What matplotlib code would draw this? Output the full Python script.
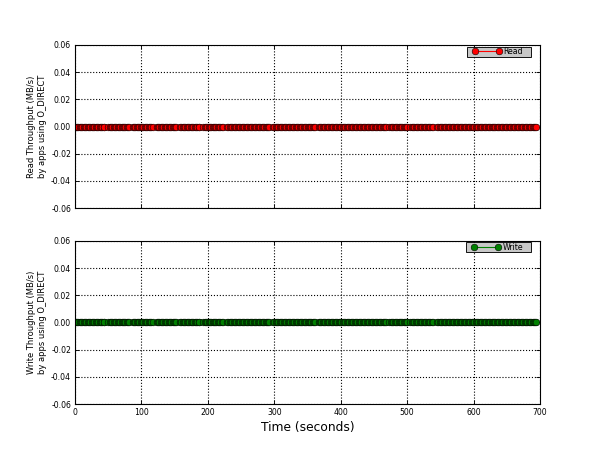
import matplotlib
matplotlib.use("Agg")
import matplotlib.pyplot as plt
from matplotlib.patches import Rectangle
from matplotlib.legend_handler import HandlerLine2D

# sampling runs (start, end) in seconds; one sample every 2 s
run_starts = [1, 50, 87, 123, 158, 193, 229, 298, 367, 473, 505, 545]
run_ends = [44, 81, 117, 152, 187, 223, 292, 361, 468, 500, 539, 694]
sample_step = 2
times = []
for s, e in zip(run_starts, run_ends):
    run = list(range(s, e, sample_step))
    if run[-1] != e:
        run.append(e)
    times.extend(run)
read_tp = [0.0] * len(times)
write_tp = [0.0] * len(times)

yticks = [-0.06, -0.04, -0.02, 0.00, 0.02, 0.04, 0.06]
xticks = [0, 100, 200, 300, 400, 500, 600, 700]

fig = plt.figure(figsize=(7.5, 5.625), dpi=80)
fig.subplots_adjust(left=0.125, right=0.9, bottom=0.1022, top=0.9, hspace=0.2)

series = [(read_tp, "red", "Read", "Read Throughput (MB/s)\nby apps using O_DIRECT"),
          (write_tp, "green", "Write", "Write Throughput (MB/s)\nby apps using O_DIRECT")]

axes = []
legends = []
for i, (vals, col, lab, ylab) in enumerate(series):
    ax = fig.add_subplot(2, 1, i + 1)
    ax.plot(times, vals, color=col, marker='o', markersize=6,
            markerfacecolor=col, markeredgecolor='black', markeredgewidth=0.5,
            linewidth=1, label=lab)
    ax.set_xlim(0, 700)
    ax.set_ylim(-0.06, 0.06)
    ax.set_xticks(xticks)
    ax.set_yticks(yticks)
    ax.set_yticklabels(["%.2f" % v for v in yticks])
    ax.grid(True, color='black', linestyle=':', linewidth=1)
    ax.tick_params(labelsize=7, direction='in', length=4, top=True, right=True)
    ax.set_ylabel(ylab, fontsize=7.5)
    for s in ax.spines.values():
        s.set_linewidth(1)
    leg = ax.legend(loc='upper right', bbox_to_anchor=(0.9634, 0.9877),
                    fontsize=7, numpoints=2, frameon=False,
                    borderpad=0.0, handlelength=3.93, handletextpad=0.14,
                    borderaxespad=0.0,
                    handler_map={ax.lines[0]: HandlerLine2D(marker_pad=0.42, numpoints=2)})
    leg.set_zorder(6)
    axes.append(ax)
    legends.append(leg)

axes[0].set_xticklabels([])
axes[1].set_xticklabels([str(v) for v in xticks])
axes[1].set_xlabel("Time (seconds)", fontsize=11)

# legend frame: grey box with uneven padding
fig.canvas.draw()
for ax, leg in zip(axes, legends):
    bb = leg.get_window_extent()
    inv = ax.transAxes.inverted()
    (x0, y0) = inv.transform((bb.x0 - 5, bb.y0 - 0.5))
    (x1, y1) = inv.transform((bb.x1 + 8, bb.y1 + 0.5))
    ax.add_patch(Rectangle((x0, y0), x1 - x0, y1 - y0, transform=ax.transAxes,
                           facecolor='#c8c8c8', edgecolor='black', linewidth=0.8,
                           clip_on=False, zorder=5.5))

fig.savefig("out.png", dpi=80, facecolor='white')
